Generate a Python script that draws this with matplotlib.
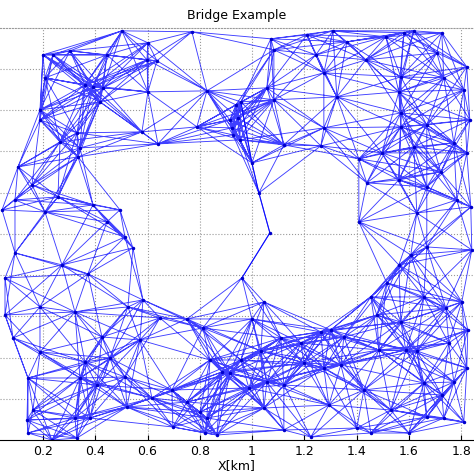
import numpy as np
import matplotlib.pyplot as plt

# node positions (pixel readings), converted to km below
px = [122,192,148,43,53,70,107,147,157,93,103,85,100,148,207,45,40,40,77,60,80,142,158,197,230,233,78,18,32,15,45,58,93,120,107,125,2,
      333,307,271,347,386,404,414,442,437,467,316,274,366,324,401,267,337,399,444,464,274,241,401,324,401,427,284,321,252,359,382,414,441,454,467,367,259,399,427,417,359,270,457,471,
      133,15,62,88,5,40,75,5,143,128,160,187,203,13,102,140,40,85,110,210,222,230,80,28,125,97,172,152,187,127,33,200,27,75,90,173,207,28,52,77,205,217,
      242,264,252,371,399,411,427,387,424,446,462,377,401,321,331,281,301,344,379,406,417,449,261,241,304,324,341,267,284,249,364,424,454,467,329,264,391,442,427,444,284,311,357,371,409,464,
      236,238,232,240,470,472,468]
py = [31,32,43,55,55,51,55,60,61,87,88,85,102,92,91,78,110,120,133,142,148,132,144,127,120,135,157,167,185,200,212,197,205,210,222,237,210,
      31,35,39,42,37,33,31,33,53,67,55,50,60,73,77,88,97,92,78,90,100,102,113,128,127,125,145,146,163,159,153,147,172,143,153,183,193,180,187,213,222,233,200,207,
      248,253,265,274,278,307,312,315,300,307,318,319,328,338,337,340,352,362,358,360,372,373,378,378,377,385,390,398,402,407,410,412,420,418,418,427,418,433,440,438,433,435,
      278,302,319,297,265,255,247,283,297,308,302,315,322,332,330,338,343,337,350,350,351,343,351,360,363,368,365,382,385,388,390,383,382,368,405,408,410,395,417,418,430,437,428,433,433,422,
      105,118,128,140,120,250,330]

# the bridge across the hole (pixel readings, top to bottom)
bridge_px = [241, 252, 259, 270, 242]
bridge_py = [102, 163, 193, 233, 278]

x_km = (np.array(px, dtype=float) + 9.3) / 261.5
y_km = (440 - np.array(py, dtype=float)) / 206.0
bx_km = (np.array(bridge_px, dtype=float) + 9.3) / 261.5
by_km = (440 - np.array(bridge_py, dtype=float)) / 206.0
radius = 0.33

fig = plt.figure(figsize=(4.74, 4.74), dpi=100)
ax = fig.add_axes([0, 0.0717, 1, 0.8696])

segs_x, segs_y = [], []
n = len(x_km)
for i in range(n):
    for j in range(i + 1, n):
        if np.hypot(x_km[i] - x_km[j], y_km[i] - y_km[j]) < radius:
            segs_x += [x_km[i], x_km[j], np.nan]
            segs_y += [y_km[i], y_km[j], np.nan]
ax.plot(segs_x, segs_y, color='#0000ff', lw=0.65, alpha=0.75)
ax.plot(bx_km, by_km, color='#0000ff', lw=0.8, alpha=0.85)
ax.plot(x_km, y_km, '.', color='#0000cc', ms=3)

ax.set_xlim(0.0356, 1.849)
ax.set_ylim(0, 2)
ax.set_xticks([0.2, 0.4, 0.6, 0.8, 1.0, 1.2, 1.4, 1.6, 1.8])
ax.set_xticklabels(['0.2', '0.4', '0.6', '0.8', '1', '1.2', '1.4', '1.6', '1.8'])
ax.set_yticks(np.arange(0.2, 2.0, 0.2))
ax.tick_params(axis='y', labelleft=False, length=0)
ax.tick_params(axis='x', direction='in', labelsize=9)
ax.grid(True, linestyle=':', color='#999999', lw=0.8)
for s in ['left', 'right']:
    ax.spines[s].set_visible(False)
ax.spines['top'].set_linestyle(':')
ax.spines['top'].set_color('#999999')
ax.set_xlabel('X[km]', fontsize=9, labelpad=1)
ax.set_title('Bridge Example', fontsize=9)
fig.savefig('out.png', dpi=100)
